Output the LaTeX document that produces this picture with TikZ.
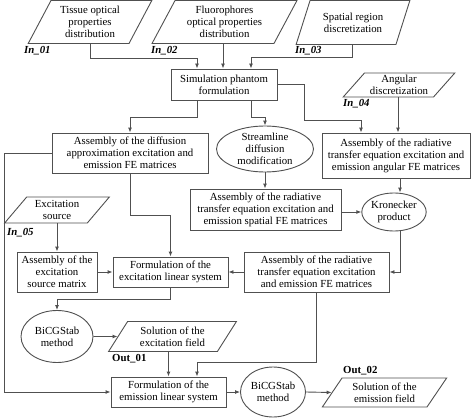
\documentclass[tikz,border=0pt]{standalone}
\usepackage{fontspec}
\setmainfont{Liberation Serif}
\usetikzlibrary{shapes.geometric,arrows.meta}
\definecolor{linecol}{RGB}{80,80,80}
\begin{document}
\begin{tikzpicture}[x=1pt,y=-1pt,
  every node/.style={font=\fontsize{10.8}{12}\selectfont, align=center, inner sep=0pt},
  box/.style={draw=linecol, line width=0.9pt, rectangle},
  para/.style={draw=linecol, line width=0.9pt, trapezium, trapezium stretches=true},
  ell/.style={draw=linecol, line width=0.9pt, ellipse},
  lab/.style={font=\fontsize{10.8}{12}\selectfont\bfseries\itshape, anchor=west},
  olab/.style={font=\fontsize{10.8}{12}\selectfont\bfseries, anchor=west},
  arr/.style={draw=linecol, line width=0.9pt, -{Latex[length=5pt,width=4pt]}}
]
\useasboundingbox (0,0) rectangle (474,420);

% input parallelograms
\node[para, trapezium left angle=61, trapezium right angle=119, minimum width=124pt, minimum height=43pt] (tissue) at (90,22) {Tissue optical\\properties\\distribution};
\node[para, trapezium left angle=61, trapezium right angle=119, minimum width=145pt, minimum height=43pt] (fluo) at (224.5,22) {Fluorophores\\optical properties\\distribution};
\node[para, trapezium left angle=63.5, trapezium right angle=116.5, minimum width=114pt, minimum height=44pt] (spatp) at (353,22.5) {Spatial region\\discretization};
\node[para, trapezium left angle=47.5, trapezium right angle=132.5, minimum width=112pt, minimum height=24pt] (angp) at (399,85) {Angular\\discretization};
\node[para, trapezium left angle=50, trapezium right angle=130, minimum width=105pt, minimum height=26pt] (srcp) at (57,210) {Excitation\\source};
\node[para, trapezium left angle=55, trapezium right angle=125, minimum width=129pt, minimum height=30pt] (solexc) at (172.5,336.5) {Solution of the\\excitation field};
\node[para, trapezium left angle=53, trapezium right angle=127, minimum width=125pt, minimum height=29pt] (solem) at (384.5,392.5) {Solution of the\\emission field};

% labels
\node[lab] (l1) at (24,51) {In\_01};
\node[lab] (l2) at (151,51) {In\_02};
\node[lab] (l3) at (295,51) {In\_03};
\node[lab] (l4) at (343,104) {In\_04};
\node[lab] (l5) at (7,233) {In\_05};
\node[olab] (o1) at (112,359) {Out\_01};
\node[olab] (o2) at (343,371) {Out\_02};

% process boxes
\node[box, minimum width=106pt, minimum height=31pt] (sim) at (224,84.5) {Simulation phantom\\formulation};
\node[box, minimum width=156pt, minimum height=40pt] (diff) at (130,153) {Assembly of the diffusion\\approximation excitation and\\emission FE matrices};
\node[box, minimum width=148pt, minimum height=45pt] (ang) at (396,155.5) {Assembly of the radiative\\transfer equation excitation and\\emission angular FE matrices};
\node[box, minimum width=151pt, minimum height=41pt] (spat) at (265.5,209.5) {Assembly of the radiative\\transfer equation excitation and\\emission spatial FE matrices};
\node[box, minimum width=80pt, minimum height=40pt] (src) at (57,272) {Assembly of the\\excitation\\source matrix};
\node[box, minimum width=115pt, minimum height=30pt] (fexc) at (170.5,272) {Formulation of the\\excitation linear system};
\node[box, minimum width=145pt, minimum height=40pt] (rte) at (316.5,272) {Assembly of the radiative\\transfer equation excitation\\and emission FE matrices};
\node[box, minimum width=115pt, minimum height=30pt] (fem) at (168.5,392) {Formulation of the\\emission linear system};

% ellipses
\node[ell, minimum width=97pt, minimum height=46pt] (stream) at (265,149) {Streamline\\diffusion\\modification};
\node[ell, minimum width=60pt, minimum height=38pt] (kron) at (394,212) {Kronecker\\product};
\node[ell, minimum width=72pt, minimum height=52pt] (bic1) at (57,336.5) {BiCGStab\\method};
\node[ell, minimum width=65pt, minimum height=50pt] (bic2) at (273,392) {BiCGStab\\method};

% connectors
\draw[arr] (tissue.center |- tissue.south) -- ++(0,14) -| ([xshift=-27pt]sim.north);
\draw[arr] ([xshift=-1.5pt]fluo.center |- fluo.south) -- ([xshift=-1.5pt]fluo.center |- sim.north);
\draw[arr] ([xshift=-1pt]spatp.center |- spatp.south) -- ++(0,12.5) -| ([xshift=27pt]sim.north);
\draw[arr] ([xshift=-27pt]sim.south) -- ++(0,17) -| (diff.north);
\draw[arr] ([xshift=27pt]sim.south) -- ++(0,17) -| (stream.north);
\draw[arr] (sim.east) -| ++(27,35.5) -| ([xshift=-35pt]ang.north);
\draw[arr] ([xshift=-1pt]angp.center |- angp.south) -- ([xshift=-1pt]angp.center |- ang.north);
\draw[arr] (diff.west) -- ++(-47,0) |- (fem.west);
\draw[arr] (diff.south) -- ++(0,42) -| (fexc.north);
\draw[arr] (stream.south) -- (stream.south |- spat.north);
\draw[arr] ([xshift=4pt]ang.south) -- ([xshift=4pt]ang.south |- kron.north);
\draw[arr] (kron.west -| spat.east) -- (kron.west);
\draw[arr] ([xshift=6pt]kron.south) |- (rte.east);
\draw[arr] (rte.west) -- (fexc.east);
\draw[arr] (srcp.center |- srcp.south) -- (srcp.center |- src.north);
\draw[arr] (src.east) -- (fexc.west);
\draw[arr] (fexc.south) -- ++(0,12) -| (bic1.north);
\draw[arr] (bic1.east) -- (solexc.west);
\draw[arr] (fem.north |- solexc.south) -- (fem.north);
\draw[arr] (rte.south) -- ++(0,70) -| ([xshift=28.5pt]fem.north);
\draw[arr] (fem.east) -- (bic2.west);
\draw[arr] (bic2.east) -- (solem.west);
\end{tikzpicture}
\end{document}
